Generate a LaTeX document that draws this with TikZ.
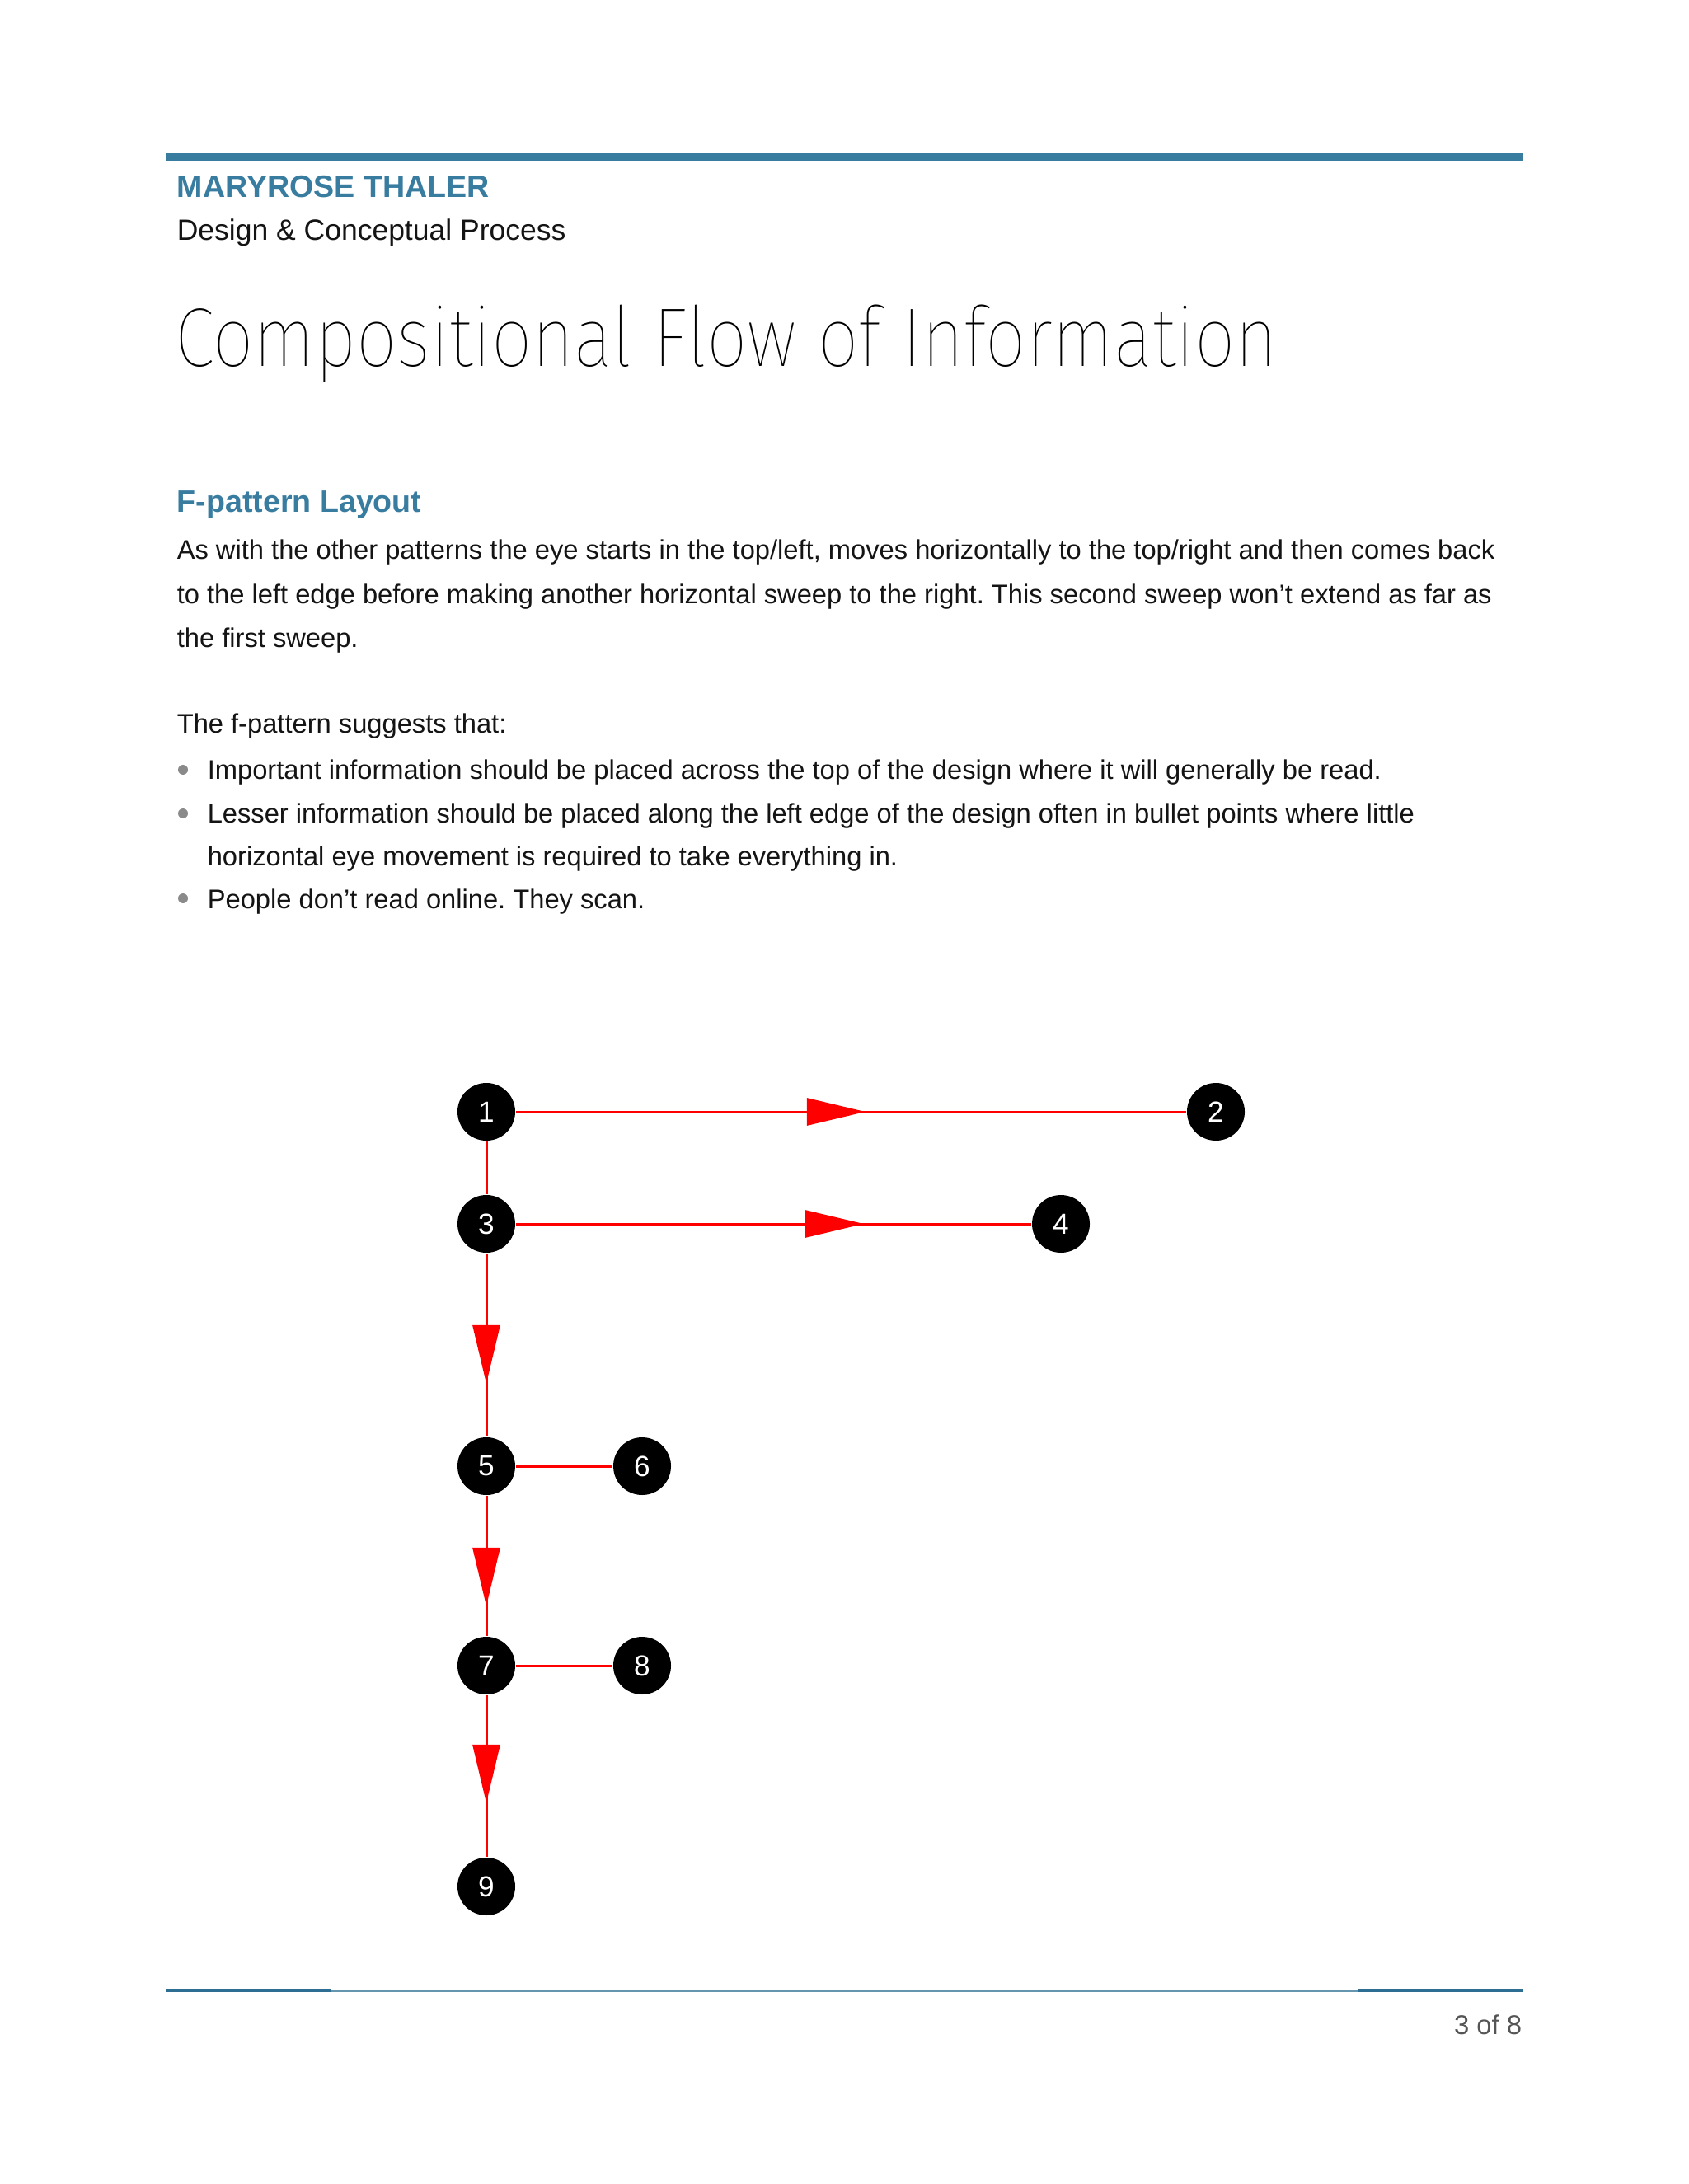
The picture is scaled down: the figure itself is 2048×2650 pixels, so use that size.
\documentclass[tikz,border=0pt]{standalone}
\usepackage{fontspec}
\setmainfont{Liberation Sans}
\newfontfamily\titlefont{Fira Sans Thin}[FakeStretch=0.87]
\usetikzlibrary{arrows.meta,decorations.markings}
\definecolor{hdrblue}{RGB}{56,124,160}
\definecolor{footdark}{RGB}{46,110,147}
\definecolor{footlight}{RGB}{100,150,175}
\definecolor{bodyblack}{RGB}{20,20,20}
\definecolor{bulletgray}{RGB}{138,138,138}
\definecolor{pagegray}{RGB}{85,85,85}
\frenchspacing
\begin{document}
\begin{tikzpicture}[x=0.25pt,y=-0.25pt,
  txt/.style={anchor=base west, inner sep=0pt, text=bodyblack, font=\fontsize{8.17pt}{10pt}\selectfont},
  headtxt/.style={anchor=base west, inner sep=0pt, text=hdrblue, font=\fontsize{9.4pt}{11pt}\selectfont\bfseries},
  bulletdot/.style={circle, fill=bulletgray, inner sep=0pt, minimum size=3pt},
  num/.style={circle, fill=black, text=white, minimum size=17.5pt, inner sep=0pt, font=\fontsize{8.8pt}{9pt}\selectfont},
  flow/.style={draw=red, line width=0.75pt},
  midarrow/.style={postaction={decorate}, decoration={markings, mark=at position #1 with {\arrow[red]{Triangle[length=17.75pt,width=8.25pt]}}}}
]
\useasboundingbox[fill=white] (0,0) rectangle (2048,2650);

% header bar
\fill[hdrblue] (201,186) rectangle (1848,195);

\node[headtxt] (name) at (214,240) {MARYROSE THALER};
\node[txt, font=\fontsize{8.875pt}{10pt}\selectfont] (sub) at (214,292) {Design \& Conceptual Process};

\node[anchor=base west, inner sep=0pt, text=black, font=\fontsize{25.3pt}{30pt}\titlefont] (title) at (212,445) {Compositional Flow of Information};

\node[headtxt] (sec) at (214,622) {F-pattern Layout};

\node[txt] (p1) at (214,679) {As with the other patterns the eye starts in the top/left, moves horizontally to the top/right and then comes back};
\node[txt] (p2) at (214,733) {to the left edge before making another horizontal sweep to the right. This second sweep won’t extend as far as};
\node[txt] (p3) at (214,786) {the first sweep.};

\node[txt] (intro) at (214,890) {The f-pattern suggests that:};
\node[bulletdot] (d1) at (222,934) {};
\node[txt] (b1) at (251,946) {Important information should be placed across the top of the design where it will generally be read.};
\node[bulletdot] (d2) at (222,987) {};
\node[txt] (b2) at (251,999) {Lesser information should be placed along the left edge of the design often in bullet points where little};
\node[txt] (b2b) at (251,1050) {horizontal eye movement is required to take everything in.};
\node[bulletdot] (d3) at (222,1090) {};
\node[txt] (b3) at (251,1102) {People don’t read online. They scan.};

% diagram
\node[num] (n1) at (590,1349) {1};
\node[num] (n2) at (1475,1349) {2};
\node[num] (n3) at (590,1485) {3};
\node[num] (n4) at (1287,1485) {4};
\node[num] (n5) at (590,1779) {5};
\node[num] (n6) at (779,1779) {6};
\node[num] (n7) at (590,2021) {7};
\node[num] (n8) at (779,2021) {8};
\node[num] (n9) at (590,2289) {9};

\draw[flow, midarrow=106pt] (n1) -- (n2);
\draw[flow] (n1) -- (n3);
\draw[flow, midarrow=105.5pt] (n3) -- (n4);
\draw[flow, midarrow=39.5pt] (n3) -- (n5);
\draw[flow] (n5) -- (n6);
\draw[flow, midarrow=33.5pt] (n5) -- (n7);
\draw[flow] (n7) -- (n8);
\draw[flow, midarrow=32.75pt] (n7) -- (n9);

% footer
\draw[footlight, line width=0.5pt] (401,2416) -- (1648,2416);
\draw[footdark, line width=1pt] (201,2415) -- (401,2415);
\draw[footdark, line width=1pt] (1648,2415) -- (1848,2415);
\node[anchor=base east, inner sep=0pt, text=pagegray, font=\fontsize{8.2pt}{9pt}\selectfont] (page) at (1847,2468) {3 of 8};
\end{tikzpicture}
\end{document}
